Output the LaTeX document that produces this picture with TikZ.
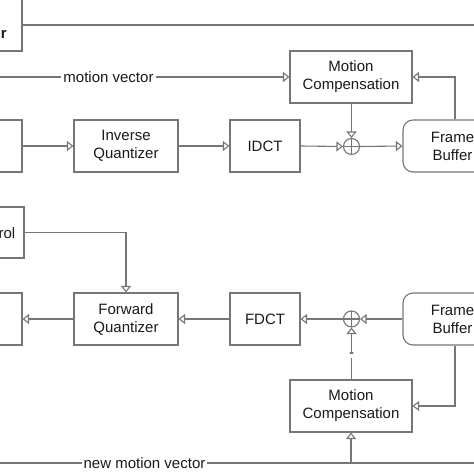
\documentclass[tikz,border=0pt]{standalone}
\usepackage{fontspec}
\setmainfont{Liberation Sans}
\usetikzlibrary{arrows.meta}
\definecolor{ln}{HTML}{767676}
\definecolor{tx}{HTML}{1A1A1A}
\begin{document}
\begin{tikzpicture}[x=1pt,y=-1pt,
  blk/.style={draw=ln, line width=1.1pt, inner sep=0pt, minimum height=52pt, text=tx, align=center, font=\fontsize{15}{18}\selectfont},
  fb/.style={blk, rounded corners=10pt},
  sumnode/.style={circle, draw=ln, line width=1.1pt, minimum size=16pt, inner sep=0pt,
    path picture={\draw[ln, line width=1.1pt] (path picture bounding box.north) -- (path picture bounding box.south) (path picture bounding box.west) -- (path picture bounding box.east);}},
  conn/.style={draw=ln, line width=1.1pt},
  arr/.style={conn, -{Triangle[open, length=6.5pt, width=10pt]}},
  lbl/.style={fill=white, text=tx, font=\fontsize{15}{18}\selectfont, inner sep=2pt},
  txt/.style={text=tx, font=\fontsize{15}{18}\selectfont, inner sep=0pt}
]
\useasboundingbox (0,0) rectangle (474,474);
\fill[white] (0,0) rectangle (474,474);
\clip (0,0) rectangle (474,474);

% top-left partial box
\node[blk, minimum width=82pt, minimum height=71pt] (topbox) at (-19,15.5) {};
\node[txt, font=\fontsize{15}{18}\selectfont\bfseries, anchor=base east] (toptext) at (7,38) {r};
\coordinate (tl) at (22,25);
\coordinate (tr) at (474,25);
\draw[conn] (tl) -- (tr);

% helper x-positions
\coordinate (x455) at (455,0);

% decoder row
\node[blk, minimum width=122pt] (mc1) at (351,77) {Motion\\Compensation};
\coordinate (mvl) at (0,77);
\draw[arr] (mvl) -- (mc1.west);
\node[lbl] (mvlabel) at (108.5,77) {motion vector};

\node[blk, minimum width=82pt] (lb2) at (-19,146) {};
\node[blk, minimum width=104pt] (iq) at (126,146) {Inverse\\Quantizer};
\node[blk, minimum width=70pt] (idct) at (265,146) {IDCT};
\node[sumnode] (sum1) at (351.5,146.5) {};
\node[fb, minimum width=120pt] (fb1) at (463,146) {};
\node[txt, align=center] (fb1t) at (452.5,146) {Frame\\Buffer};

\draw[arr] (lb2.east) -- (iq.west);
\draw[arr] (iq.east) -- (idct.west);
\draw[arr] (idct.east) -- (sum1.west);
\draw[arr] (sum1.east) -- (fb1.west);
\draw[arr] (mc1.south -| sum1) -- (sum1.north);
\draw[arr] (fb1.north -| x455) |- (mc1.east);

% rate control
\node[blk, minimum width=84pt, minimum height=51pt] (rc) at (-18,232.5) {};
\node[txt, anchor=base east] (rctext) at (15.5,238) {rol};

% encoder row
\node[blk, minimum width=82pt] (lb4) at (-19,319) {};
\node[blk, minimum width=104pt] (fq) at (126,319) {Forward\\Quantizer};
\node[blk, minimum width=70pt] (fdct) at (265,319) {FDCT};
\node[sumnode] (sum2) at (351.5,319) {};
\node[fb, minimum width=120pt] (fb2) at (463,319) {};
\node[txt, align=center] (fb2t) at (452.5,319) {Frame\\Buffer};

\draw[arr] (rc.east) -| (fq.north);
\draw[arr] (fq.west) -- (lb4.east);
\draw[arr] (fdct.west) -- (fq.east);
\draw[arr] (sum2.west) -- (fdct.east);
\draw[arr] (fb2.west) -- (sum2.east);

\node[blk, minimum width=122pt] (mc2) at (351,406) {Motion\\Compensation};
\draw[arr] (mc2.north -| sum2) -- (sum2.south);
\node[lbl, inner sep=1pt] (minus) at (351.5,355) {-};
\draw[arr] (fb2.south -| x455) |- (mc2.east);

\coordinate (nvl) at (0,463);
\coordinate (nvr) at (474,463);
\draw[conn] (nvl) -- (nvr);
\coordinate (nvm) at (351,463);
\draw[arr] (nvm) -- (mc2.south);
\node[lbl] (nvlabel) at (144.5,463) {new motion vector};
\end{tikzpicture}
\end{document}
